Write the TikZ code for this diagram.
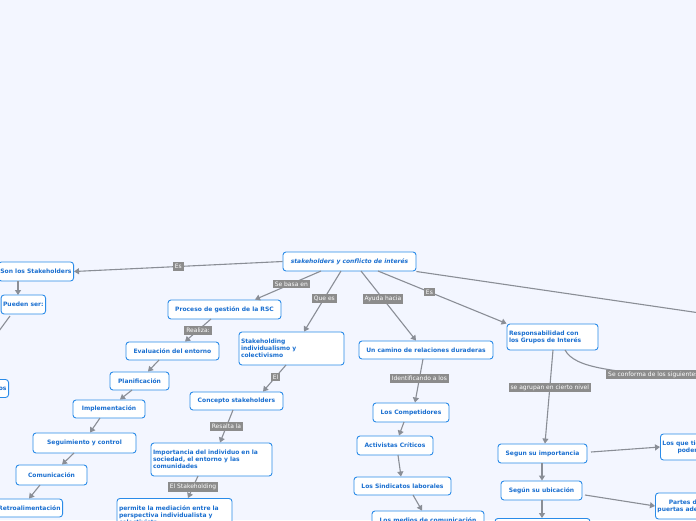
\documentclass[tikz,border=0pt]{standalone}
\usepackage{fontspec}
\setmainfont{DejaVu Sans}
\usetikzlibrary{arrows.meta}
\definecolor{bg}{HTML}{F3F6FF}
\definecolor{bd}{HTML}{2A8BE8}
\definecolor{tx}{HTML}{1A6FD0}
\definecolor{ln}{HTML}{8A8E96}
\definecolor{lb}{HTML}{8C8C8C}
\tikzset{
 box/.style={draw=bd,fill=white,rounded corners=3pt,line width=0.9pt,text=tx,font=\fontsize{6}{7}\selectfont\bfseries,inner sep=2pt,align=center},
 mbox/.style={box,align=left},
 lab/.style={fill=lb,text=white,font=\fontsize{6}{7}\selectfont,inner sep=2pt},
 con/.style={draw=ln,line width=1.1pt,-{Triangle[length=5pt,width=6pt]}},
 plain/.style={draw=ln,line width=1.1pt}
}
\begin{document}
\begin{tikzpicture}[x=1pt,y=-1pt]
\useasboundingbox (0,0) rectangle (696,520);
\clip (0,0) rectangle (696,520);
\fill[bg] (0,0) rectangle (696,520);
% nodes
\node[box,minimum width=133pt,minimum height=19pt,font=\fontsize{6}{7}\selectfont\bfseries\itshape] (root) at (349.5,261.5) {stakeholders y conflicto de interés};
\node[box,anchor=east,minimum height=19pt] (son) at (74,271.5) {Son los Stakeholders};
\node[box,anchor=east,minimum height=19pt] (pue) at (46,304.5) {Pueden ser:};
\node[box,anchor=east,minimum height=18pt] (sx) at (9,388.5) {Otros};
\node[box,anchor=east,minimum height=18pt] (ret) at (63,508) {Retroalimentación};
\node[box,minimum width=113pt,minimum height=19pt] (rsc) at (224.5,309.5) {Proceso de gestión de la RSC};
\node[box,minimum width=93pt,minimum height=18pt] (eva) at (172.5,351) {Evaluación del entorno};
\node[box,minimum width=59pt,minimum height=18pt] (pla) at (139.5,381) {Planificación};
\node[box,minimum width=72pt,minimum height=18pt] (imp) at (109,409) {Implementación};
\node[box,minimum width=103pt,minimum height=20pt] (seg) at (84.5,443) {Seguimiento y control};
\node[box,minimum width=71pt,minimum height=20pt] (com) at (51.5,475) {Comunicación};
\node[mbox,text width=101pt,minimum height=33pt] (sti) at (291.5,348.5) {Stakeholding\\individualismo y\\colectivismo};
\node[box,minimum width=93pt,minimum height=18pt] (con) at (236.5,401) {Concepto stakeholders};
\node[mbox,text width=117pt,minimum height=33pt] (imx) at (211.5,459.5) {Importancia del individuo en la\\sociedad, el entorno y las\\comunidades};
\node[mbox,text width=111pt,minimum height=33pt,anchor=north] (per) at (174.5,498) {permite la mediación entre la\\perspectiva individualista y\\colectivista};
\node[box,minimum width=134pt,minimum height=18pt] (cam) at (426,350) {Un camino de relaciones duraderas};
\node[box,minimum width=76pt,minimum height=19pt] (cmp) at (411,412.5) {Los Competidores};
\node[box,minimum width=76pt,minimum height=19pt] (act) at (395,445.5) {Activistas Críticos};
\node[box,minimum width=97pt,minimum height=18pt] (sin) at (402.5,486) {Los Sindicatos laborales};
\node[box,minimum width=112pt,minimum height=19pt] (med) at (428,520.5) {Los medios de comunicación};
\node[mbox,text width=87pt,minimum height=26pt] (res) at (552.5,337) {Responsabilidad con\\los Grupos de Interés};
\node[box,minimum width=89pt,minimum height=19pt] (imq) at (542.5,453.5) {Segun su importancia};
\node[box,minimum width=81pt,minimum height=19pt] (ubi) at (541.5,490.5) {Según su ubicación};
\node[box,minimum width=95pt,minimum height=19pt,anchor=north] (thr) at (542.5,518) {Según su tipo};
\node[box,anchor=west,minimum height=26pt] (lqu) at (660,447) {Los que tienen\\poder};
\node[box,anchor=west,minimum height=26pt] (par) at (655,506) {Partes de\\puertas adentro};
\coordinate (rr) at (700,313);
\coordinate (sc) at (700,378);
\coordinate (pd) at (-4,335);
% connectors
\draw[con] (root.west) -- node[lab,pos=0.5]{Es} (son.east);
\draw[con] (18,281) -- (18,295);
\draw[plain] (10,316) -- (pd);
\draw[con] (321,271) -- node[lab,pos=0.45]{Se basa en} (rsc.north -| 255,0);
\draw[con] (341,271) -- node[lab,pos=0.45]{Que es} (sti.north -| 304,0);
\draw[con] (361,271) -- node[lab,pos=0.4]{Ayuda hacia} (cam.north -| 416,0);
\draw[con] (378,271) -- node[lab,pos=0.4]{Es} (res.north west);
\draw[plain] (root.east) ++(0,10) -- (rr);
\draw[con] (211,319) -- node[lab,pos=0.5]{Realiza:} (eva.north -| 185,0);
\draw[con] (159,360) -- (pla.north -| 148,0);
\draw[con] (132,390) -- (imp.north -| 120,0);
\draw[con] (100,418) -- (seg.north -| 90,0);
\draw[con] (74,453) -- (com.north -| 62,0);
\draw[con] (40,485) -- (ret.north -| 29,0);
\draw[con] (286,365) -- node[lab,pos=0.45]{El} (con.north -| 263,0);
\draw[con] (233,410) -- node[lab,pos=0.5]{Resalta la} (imx.north -| 220,0);
\draw[con] (198,476) -- node[lab,pos=0.5]{El Stakeholding} (per.north -| 188,0);
\draw[con] (423,359) -- node[lab,pos=0.45]{Identificando a los} (cmp.north -| 415,0);
\draw[con] (404,422) -- (act.north -| 399,0);
\draw[con] (398,455) -- (sin.north -| 401,0);
\draw[con] (413,495) -- (med.north -| 422,0);
\draw[con] (553,350) -- node[lab,pos=0.4]{se agrupan en cierto nivel} (imq.north -| 545,0);
\draw[plain] (565,350) .. controls (575,368) and (610,372) .. (sc);
\node[lab,anchor=west] (scl) at (606,374.5) {Se conforma de los siguientes};
\draw[con] (591,452) -- (lqu.west);
\draw[con] (542,463) -- (ubi.north -| 542,0);
\draw[con] (585,495) -- (par.west);
\draw[con] (542,500) -- (thr.north -| 542,0);
\end{tikzpicture}
\end{document}
